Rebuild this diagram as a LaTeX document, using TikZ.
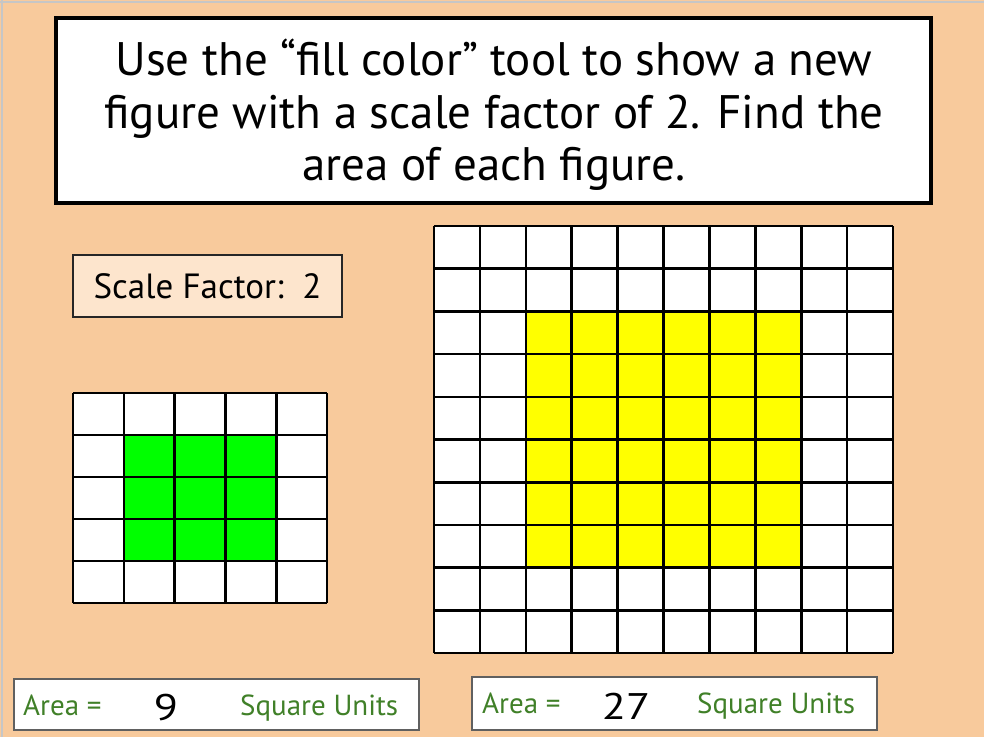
\documentclass[tikz,border=0pt]{standalone}
\usepackage{fontspec}
\setmainfont{PT Sans}
\newfontfamily\numfont{PT Sans}[FakeStretch=1.2]
\definecolor{bg}{HTML}{F8CA9C}
\definecolor{sfbox}{HTML}{FDE5CD}
\definecolor{txtgreen}{RGB}{64,128,40}
\definecolor{cellgreen}{HTML}{00FF00}
\definecolor{cellyellow}{HTML}{FFFF00}
\definecolor{areaborder}{HTML}{606060}
\tikzset{
  panel/.style={draw=black, fill=white, inner sep=0pt},
  areabox/.style={draw=areaborder, line width=2.5pt, fill=white, inner sep=0pt, minimum width=405pt},
  gridline/.style={draw=black, line width=2.6pt},
  titletext/.style={anchor=base, inner sep=0pt, font=\fontsize{47}{52}\selectfont},
  greentext/.style={anchor=base west, inner sep=0pt, text=txtgreen, font=\fontsize{29}{32}\selectfont},
  numtext/.style={anchor=base, inner sep=0pt, font=\numfont\fontsize{37}{40}\selectfont},
}
\begin{document}
\begin{tikzpicture}[x=1pt,y=-1pt]
\useasboundingbox (0,0) rectangle (984,737);
\fill[bg] (0,0) rectangle (984,737);
\draw[gray!45, line width=2pt] (0,2) -- (984,2);
\draw[gray!45, line width=2pt] (2,0) -- (2,737);

% title
\node[panel, line width=3.5pt, minimum width=875pt, minimum height=185pt] (title) at (493.5,110.5) {};
\node[titletext] (t1) at (494,75) {Use the “fill color” tool to show a new};
\node[titletext] (t2) at (494,128) {figure with a scale factor of 2. Find the};
\node[titletext] (t3) at (494,180) {area of each figure.};

% scale factor
\node[draw=black!85, line width=2.5pt, fill=sfbox, minimum width=269pt, minimum height=62pt, inner sep=0pt] (sf) at (207.5,286) {};
\node[anchor=base, inner sep=0pt, font=\fontsize{35}{40}\selectfont] (sft) at (207.5,298) {Scale Factor:\ \ 2};

% small grid
\fill[white] (73,393) rectangle (327,603);
\fill[cellgreen] (73+254/5,393+42) rectangle (73+4*254/5,393+4*42);
\foreach \i in {0,...,5} {
  \draw[gridline] (73+\i*254/5,393) -- (73+\i*254/5,603);
  \draw[gridline] (73,393+\i*42) -- (327,393+\i*42);
}

% big grid
\fill[white] (434,226) rectangle (893,653);
\fill[cellyellow] (434+2*45.9,226+2*42.7) rectangle (434+8*45.9,226+8*42.7);
\foreach \i in {0,...,10} {
  \draw[gridline] (434+\i*45.9,226) -- (434+\i*45.9,653);
  \draw[gridline] (434,226+\i*42.7) -- (893,226+\i*42.7);
}

% area boxes
\node[areabox, minimum height=51pt] (a1) at (216.5,704.5) {};
\node[greentext] (a1l) at (23,715) {Area =};
\node[numtext] (a1n) at (166,720) {9};
\node[greentext] (a1u) at (240,715) {Square Units};

\node[areabox, minimum height=53pt] (a2) at (674.5,703.5) {};
\node[greentext] (a2l) at (482,713) {Area =};
\node[numtext] (a2n) at (626,719) {27};
\node[greentext] (a2u) at (697,713) {Square Units};
\end{tikzpicture}
\end{document}
